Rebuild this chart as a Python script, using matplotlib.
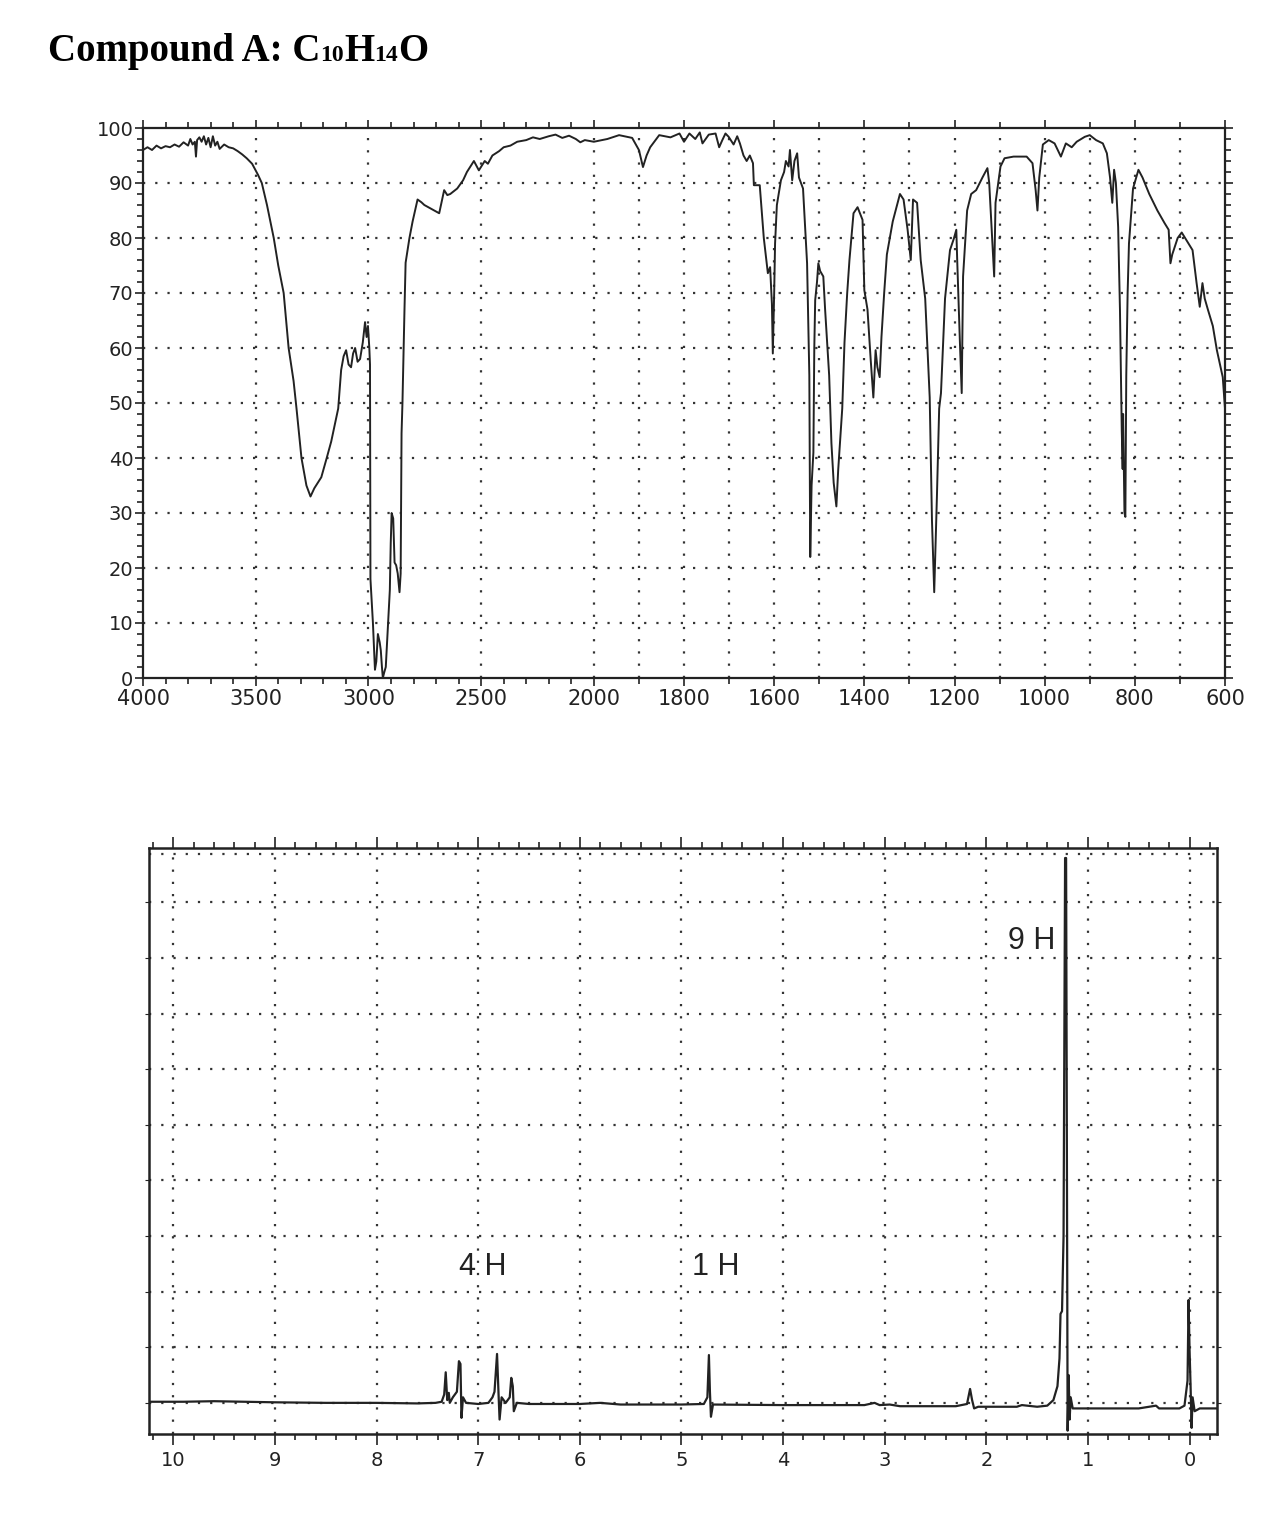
import numpy as np
import matplotlib
matplotlib.use("Agg")
import matplotlib.pyplot as plt
from matplotlib.offsetbox import TextArea, HPacker, AnchoredOffsetbox

# ---------- IR spectrum (wavenumber cm-1, %T) ----------
ir_wn = [
    4000, 3980, 3960, 3940, 3920, 3900, 3880, 3860, 3840, 3820, 3800, 3790, 3780, 3770,
    3765, 3760, 3750, 3740, 3730, 3720, 3710, 3700, 3690, 3680, 3670, 3660, 3640, 3620,
    3600, 3580, 3560, 3540, 3516, 3490, 3473, 3450, 3420, 3400, 3376, 3354, 3332, 3319,
    3297, 3275, 3257, 3240, 3209, 3185, 3165, 3134, 3121, 3110, 3099, 3088, 3077, 3068,
    3059, 3048, 3037, 3025, 3015, 3008, 3002, 2996, 2993, 2991, 2980, 2971, 2965, 2958,
    2950, 2945, 2940, 2936, 2930, 2923, 2918, 2914, 2905, 2901, 2897, 2890, 2884, 2877,
    2870, 2862, 2857, 2853, 2849, 2840, 2835, 2818, 2804, 2782, 2765, 2752, 2730, 2708,
    2686, 2664, 2650, 2637, 2606, 2580, 2563, 2532, 2510, 2484, 2470, 2450, 2420, 2400,
    2370, 2340, 2300, 2270, 2240, 2200, 2170, 2140, 2110, 2080, 2060, 2040, 2000, 1970,
    1944, 1915, 1900, 1891, 1883, 1875, 1855, 1830, 1810, 1800, 1788, 1775, 1765, 1759,
    1745, 1730, 1722, 1715, 1708, 1701, 1690, 1682, 1676, 1668, 1661, 1654, 1647, 1645,
    1632, 1623, 1614, 1609, 1605, 1603, 1600, 1598, 1594, 1585, 1578, 1574, 1568, 1565,
    1560, 1555, 1549, 1545, 1536, 1527, 1522, 1520, 1517, 1513, 1511, 1509, 1505, 1502,
    1498, 1491, 1487, 1478, 1473, 1468, 1462, 1458, 1449, 1444, 1438, 1433, 1424, 1415,
    1404, 1400, 1393, 1386, 1380, 1375, 1371, 1366, 1362, 1356, 1350, 1337, 1321, 1313,
    1304, 1297, 1292, 1283, 1275, 1265, 1255, 1250, 1245, 1239, 1234, 1230, 1221, 1210,
    1201, 1196, 1194, 1188, 1184, 1181, 1172, 1163, 1152, 1138, 1127, 1123, 1116, 1112,
    1109, 1098, 1089, 1069, 1040, 1027, 1020, 1016, 1012, 1004, 991, 978, 964, 953,
    940, 929, 911, 900, 886, 871, 862, 855, 850, 846, 842, 837, 833, 829,
    827, 826, 823, 821, 819, 816, 813, 804, 792, 783, 768, 750, 734, 725,
    721, 717, 705, 696, 681, 672, 663, 656, 650, 645, 638, 627, 618, 605,
    600,
]
ir_t = [
    96.0, 96.5, 96.0, 96.8, 96.3, 96.7, 96.5, 97.0, 96.6, 97.4, 96.8, 98.0, 97.0, 97.5,
    94.8, 97.8, 98.3, 97.5, 98.5, 97.0, 98.2, 96.5, 98.5, 96.8, 97.5, 96.2, 97.0, 96.5,
    96.3, 95.8, 95.2, 94.5, 93.5, 91.5, 90.0, 86.0, 80.0, 75.0, 70.0, 60.0, 54.0, 49.0,
    40.0, 35.0, 33.0, 34.5, 36.5, 40.0, 43.0, 49.0, 56.0, 58.5, 59.6, 57.0, 56.5, 59.0,
    60.0, 57.5, 58.0, 61.0, 64.7, 62.0, 64.0, 60.0, 57.0, 18.0, 10.0, 1.5, 3.0, 8.0,
    6.5, 5.0, 2.0, 0.0, 1.0, 2.0, 6.0, 9.0, 16.0, 24.5, 30.0, 29.0, 21.0, 20.5,
    19.0, 15.6, 19.0, 44.5, 50.0, 67.0, 75.5, 80.0, 83.0, 87.0, 86.5, 86.0, 85.5, 85.0,
    84.5, 88.7, 87.8, 88.0, 89.0, 90.5, 92.0, 94.0, 92.3, 94.0, 93.5, 95.0, 95.8, 96.5,
    96.8, 97.5, 97.8, 98.3, 98.0, 98.5, 98.8, 98.2, 98.6, 98.0, 97.4, 97.8, 97.5, 98.0,
    98.7, 98.2, 96.0, 92.9, 95.0, 96.5, 98.7, 98.3, 99.0, 97.5, 99.0, 98.0, 99.2, 97.2,
    98.8, 99.0, 96.5, 97.8, 99.0, 98.4, 97.0, 98.5, 97.2, 95.0, 94.0, 95.0, 93.6, 89.6,
    89.6, 80.0, 73.6, 74.7, 68.0, 59.0, 70.0, 79.0, 86.0, 90.5, 92.0, 94.0, 93.0, 96.0,
    90.5, 94.0, 95.4, 91.0, 89.0, 75.4, 55.0, 22.0, 35.0, 41.0, 60.0, 68.7, 72.0, 75.4,
    74.0, 73.0, 67.0, 55.0, 42.7, 35.5, 31.2, 37.8, 49.0, 61.0, 70.0, 76.0, 84.5, 85.6,
    83.3, 70.5, 67.0, 58.0, 51.0, 59.6, 56.5, 54.7, 62.0, 70.0, 77.0, 83.0, 88.0, 87.0,
    81.5, 76.0, 87.0, 86.4, 76.0, 69.0, 51.0, 28.7, 15.6, 33.0, 49.0, 51.8, 69.0, 77.8,
    80.0, 81.5, 76.0, 61.0, 51.8, 73.0, 85.0, 88.0, 88.7, 91.0, 92.7, 90.0, 79.0, 73.0,
    86.4, 93.0, 94.5, 94.8, 94.8, 93.6, 88.7, 85.0, 91.0, 97.0, 97.8, 97.2, 94.8, 97.2,
    96.5, 97.5, 98.4, 98.7, 97.8, 97.2, 95.4, 91.0, 86.4, 92.4, 90.0, 82.0, 67.0, 45.0,
    38.0, 48.0, 30.0, 29.3, 55.0, 70.0, 79.0, 89.0, 92.4, 91.0, 88.0, 85.0, 82.7, 81.5,
    75.4, 77.0, 80.0, 81.0, 79.0, 77.8, 71.8, 67.5, 71.8, 69.0, 67.0, 64.0, 59.6, 54.7,
    49.0,
]
ir_major = [4000, 3500, 3000, 2500, 2000, 1800, 1600, 1400, 1200, 1000, 800, 600]
ir_vgrid = [3500, 3000, 2500, 2000, 1900, 1800, 1700, 1600, 1500, 1400, 1300,
            1200, 1100, 1000, 900, 800, 700]

# ---------- 1H NMR spectrum (ppm, relative intensity) ----------
nmr_ppm = [
    10.25, 9.9, 9.6, 9.0, 8.5, 8.0, 7.6, 7.42, 7.36, 7.335, 7.32, 7.305, 7.29, 7.28,
    7.25, 7.21, 7.19, 7.175, 7.165, 7.15, 7.12, 7.0, 6.9, 6.86, 6.84, 6.815, 6.80, 6.79,
    6.77, 6.73, 6.69, 6.675, 6.66, 6.65, 6.62, 6.5, 6.3, 6.0, 5.8, 5.6, 5.0, 4.78,
    4.745, 4.73, 4.72, 4.71, 4.69, 4.0, 3.2, 3.1, 3.05, 2.95, 2.85, 2.3, 2.19, 2.16,
    2.14, 2.12, 2.08, 1.7, 1.65, 1.5, 1.4, 1.34, 1.30, 1.28, 1.27, 1.255, 1.24, 1.225,
    1.215, 1.205, 1.2, 1.19, 1.18, 1.17, 1.15, 1.1, 1.0, 0.5, 0.33, 0.3, 0.1, 0.05,
    0.02, 0.01, 0.0, -0.01, -0.02, -0.03, -0.05, -0.1, -0.27,
]
nmr_int = [
    0.02, 0.02, 0.03, 0.01, 0.0, 0.0, -0.01, 0.0, 0.02, 0.15, 0.55, 0.05, 0.18, 0.0,
    0.1, 0.2, 0.75, 0.7, -0.27, 0.1, 0.0, -0.02, 0.0, 0.1, 0.2, 0.88, 0.15, -0.3,
    0.1, 0.0, 0.1, 0.45, 0.3, -0.15, 0.0, -0.02, -0.02, -0.02, 0.0, -0.03, -0.03, -0.02,
    0.1, 0.86, 0.2, -0.25, -0.03, -0.04, -0.04, 0.0, -0.04, -0.03, -0.06, -0.06, -0.02, 0.25,
    0.05, -0.1, -0.07, -0.07, -0.04, -0.07, -0.05, 0.05, 0.3, 0.8, 1.6, 1.65, 3.0, 9.8,
    9.8, 3.0, -0.5, 0.5, -0.3, 0.1, -0.1, -0.1, -0.1, -0.1, -0.05, -0.1, -0.1, -0.05,
    0.4, 1.85, 0.95, 0.3, -0.45, 0.1, -0.15, -0.1, -0.1,
]
nmr_labels = ["9 H", "4 H", "1 H"]
nmr_label_pos = [(1.55, 8.3), (6.96, 2.45), (4.66, 2.45)]

INK = "#222222"
DOTS = (0, (1, 4.5))


def fwd(x):
    x = np.asarray(x, dtype=float)
    return np.where(x >= 2000, x / 2.0, x - 1000.0)


def inv(u):
    u = np.asarray(u, dtype=float)
    return np.where(u >= 1000, u * 2.0, u + 1000.0)


fig = plt.figure(figsize=(12.76, 15.22), dpi=100)
fig.patch.set_facecolor("white")

# ---------- title ----------
big = dict(family="Liberation Serif", weight="bold", size=28, color="black")
small = dict(family="Liberation Serif", weight="bold", size=17, color="black")
parts = [("Compound A: C", big), ("10", small), ("H", big), ("14", small), ("O", big)]
box = HPacker(children=[TextArea(t, textprops=p) for t, p in parts],
              align="baseline", pad=0, sep=0)
fig.add_artist(AnchoredOffsetbox(loc="lower left", child=box, pad=0, borderpad=0,
                                 frameon=False, bbox_to_anchor=(48 / 1276, 1 - 70 / 1522),
                                 bbox_transform=fig.transFigure))

# ---------- IR ----------
ax1 = fig.add_axes([143 / 1276, 1 - 678 / 1522, 1082 / 1276, 550 / 1522])
ax1.set_xscale("function", functions=(fwd, inv))
ax1.plot(ir_wn, ir_t, color=INK, lw=1.4, zorder=3)
ax1.set_xlim(4000, 600)
ax1.set_ylim(0, 100)
for v in ir_vgrid:
    ax1.axvline(v, color="#333333", lw=1.6, ls=DOTS, zorder=1)
for h in range(10, 100, 10):
    ax1.axhline(h, color="#333333", lw=1.6, ls=DOTS, zorder=1)
ax1.set_xticks(ir_major)
ax1.set_xticklabels([str(v) for v in ir_major], fontsize=15, color=INK)
ax1.set_xticks([v for v in range(600, 4001, 100) if v not in ir_major], minor=True)
ax1.set_yticks(range(0, 101, 10))
ax1.set_yticklabels([str(v) for v in range(0, 101, 10)], fontsize=14, color=INK)
ax1.set_yticks(range(0, 101, 2), minor=True)
ax1.tick_params(which="both", direction="out", top=True, right=True, color=INK, width=1.2)
ax1.tick_params(which="major", length=6, pad=2)
ax1.tick_params(which="minor", length=4)
ax1.tick_params(axis="y", which="major", pad=1)
for s in ax1.spines.values():
    s.set_color(INK)
    s.set_linewidth(1.6)

# ---------- NMR ----------
ax2 = fig.add_axes([149 / 1276, 1 - 1434 / 1522, 1068 / 1276, 586 / 1522])
ax2.plot(nmr_ppm, nmr_int, color=INK, lw=1.6, zorder=3)
ax2.set_xlim(10.24, -0.27)
ax2.set_ylim(-0.56, 9.98)
for v in range(0, 11):
    ax2.axvline(v, color="#333333", lw=1.6, ls=DOTS, zorder=1)
for h in range(0, 10):
    ax2.axhline(h, color="#333333", lw=1.6, ls=DOTS, zorder=1)
ax2.axhline(9.88, color="#333333", lw=1.6, ls=DOTS, zorder=1)
ax2.set_xticks(range(0, 11))
ax2.set_xticklabels([str(v) for v in range(0, 11)], fontsize=14, color=INK)
ax2.set_xticks(np.arange(-0.2, 10.21, 0.2), minor=True)
ax2.set_yticks(range(0, 10))
ax2.set_yticklabels([])
ax2.tick_params(axis="x", which="both", direction="out", top=True, color=INK, width=1.2)
ax2.tick_params(axis="x", which="major", length=8, pad=4)
ax2.tick_params(axis="x", which="minor", length=4)
ax2.tick_params(axis="y", which="major", direction="out", left=True, right=True,
                length=3, color=INK)
for s in ax2.spines.values():
    s.set_color(INK)
    s.set_linewidth(1.8)
for lab, (x, y) in zip(nmr_labels, nmr_label_pos):
    ax2.text(x, y, lab, family="Liberation Sans", fontsize=22, color=INK,
             ha="center", va="center", zorder=4)

fig.savefig("out.png", dpi=100)
